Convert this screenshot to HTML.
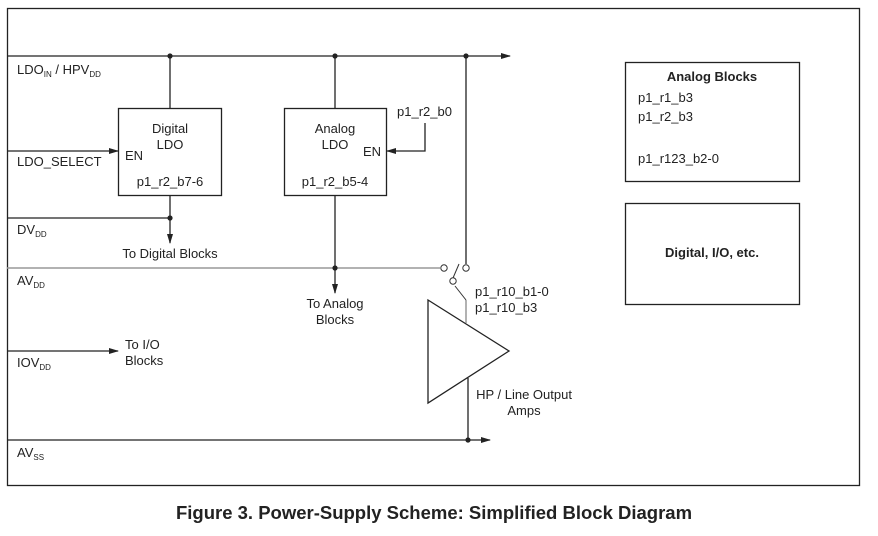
<!DOCTYPE html>
<html><head><style>body{margin:0;background:#fff}svg{display:block}</style></head><body>
<svg width="878" height="536" viewBox="0 0 878 536" xmlns="http://www.w3.org/2000/svg" font-family="Liberation Sans, Arial, sans-serif" font-size="13" fill="#222">
<defs><marker id="a" markerWidth="10" markerHeight="8" refX="9" refY="4" orient="auto" markerUnits="userSpaceOnUse"><path d="M0,1 L10,4 L0,7 Z" fill="#222"/></marker></defs>
<rect x="7.5" y="8.5" width="852" height="477" fill="none" stroke="#222" stroke-width="1.3"/>
<g stroke="#222" stroke-width="1.3" fill="none">
<line x1="7" y1="56" x2="510" y2="56" marker-end="url(#a)"/>
<line x1="170" y1="56" x2="170" y2="108"/>
<line x1="335" y1="56" x2="335" y2="108"/>
<line x1="466" y1="56" x2="466" y2="264"/>
<rect x="118.5" y="108.5" width="103" height="87"/>
<rect x="284.5" y="108.5" width="102" height="87"/>
<line x1="7" y1="151" x2="118" y2="151" marker-end="url(#a)"/>
<polyline points="425,123 425,151 387,151" marker-end="url(#a)"/>
<line x1="170" y1="195" x2="170" y2="243" marker-end="url(#a)"/>
<line x1="7" y1="218" x2="170" y2="218"/>
<line x1="335" y1="195" x2="335" y2="293" marker-end="url(#a)"/>
<line x1="7" y1="351" x2="118" y2="351" marker-end="url(#a)"/>
<polygon points="428,300 509,351 428,403"/>
<line x1="468" y1="378" x2="468" y2="440"/>
<line x1="7" y1="440" x2="490" y2="440" marker-end="url(#a)"/>
<rect x="625.5" y="62.5" width="174" height="119"/>
<rect x="625.5" y="203.5" width="174" height="101"/>
</g>
<g stroke="#999" stroke-width="1.5" fill="none">
<line x1="7" y1="268" x2="440" y2="268"/>
<line x1="466" y1="300" x2="466" y2="323"/>
</g>
<g stroke="#333" stroke-width="1" fill="#fff">
<circle cx="444" cy="268" r="3.2"/><circle cx="466" cy="268" r="3.2"/>
<line x1="455" y1="286" x2="466" y2="300" />
<line x1="453" y1="278" x2="459" y2="264"/>
<circle cx="453" cy="281" r="3.2"/>
</g>
<g fill="#222">
<circle cx="170" cy="56" r="2.6"/><circle cx="335" cy="56" r="2.6"/><circle cx="466" cy="56" r="2.6"/>
<circle cx="170" cy="218" r="2.6"/><circle cx="335" cy="268" r="2.6"/><circle cx="468" cy="440" r="2.6"/>
</g>
<text x="17" y="74">LDO<tspan font-size="8" dy="3">IN</tspan><tspan dy="-3"> / HPV</tspan><tspan font-size="8" dy="3">DD</tspan></text>
<text x="17" y="166">LDO_SELECT</text>
<text x="17" y="234">DV<tspan font-size="8" dy="3">DD</tspan></text>
<text x="17" y="285">AV<tspan font-size="8" dy="3">DD</tspan></text>
<text x="17" y="367">IOV<tspan font-size="8" dy="3">DD</tspan></text>
<text x="17" y="457">AV<tspan font-size="8" dy="3">SS</tspan></text>
<g text-anchor="middle">
<text x="170" y="133">Digital</text><text x="170" y="149">LDO</text>
<text x="170" y="186">p1_r2_b7-6</text>
<text x="335" y="133">Analog</text><text x="335" y="149">LDO</text>
<text x="335" y="186">p1_r2_b5-4</text>
<text x="170" y="258">To Digital Blocks</text>
<text x="335" y="308">To Analog</text><text x="335" y="324">Blocks</text>
<text x="524" y="399">HP / Line Output</text><text x="524" y="415">Amps</text>
<text x="712" y="81" font-weight="bold">Analog Blocks</text>
<text x="712" y="257" font-weight="bold">Digital, I/O, etc.</text>
<text x="434" y="519" font-size="18.5" font-weight="bold">Figure 3. Power-Supply Scheme: Simplified Block Diagram</text>
</g>
<text x="125" y="160">EN</text>
<text x="363" y="156">EN</text>
<text x="397" y="116">p1_r2_b0</text>
<text x="475" y="296">p1_r10_b1-0</text>
<text x="475" y="312">p1_r10_b3</text>
<text x="125" y="349">To I/O</text><text x="125" y="365">Blocks</text>
<text x="638" y="102">p1_r1_b3</text>
<text x="638" y="121">p1_r2_b3</text>
<text x="638" y="163">p1_r123_b2-0</text>
</svg>
</body></html>
